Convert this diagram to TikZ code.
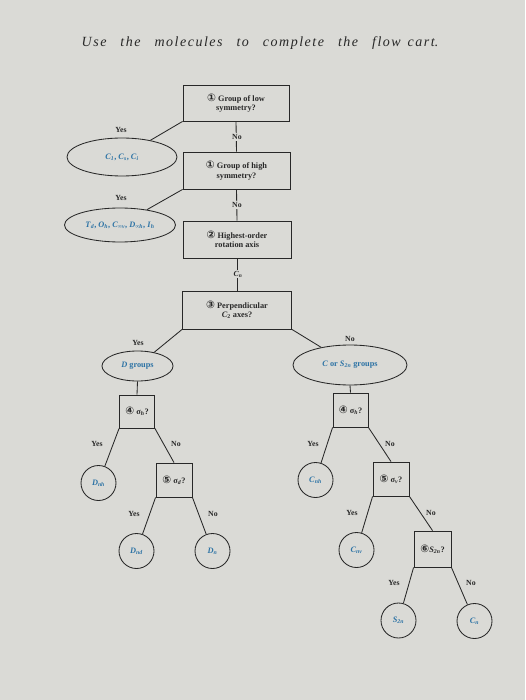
\documentclass[tikz,border=0pt]{standalone}
\usepackage{fontspec}
\setmainfont{Liberation Serif}
\newfontfamily\symfont{DejaVu Sans}
\usetikzlibrary{shapes.geometric}
\definecolor{paper}{RGB}{218,218,214}
\definecolor{ink}{RGB}{40,40,40}
\definecolor{bluetxt}{RGB}{45,115,165}
\newcommand{\cn}[1]{{\symfont\fontsize{10.5}{9}\selectfont #1}}
\newcommand{\bi}[1]{\textbf{\textit{#1}}}
\newcommand{\sbi}[1]{\textsubscript{\textbf{\textit{#1}}}}
\begin{document}
\begin{tikzpicture}[x=1pt,y=-1pt,
  every node/.style={text=ink},
  box/.style={draw=ink,line width=0.85pt,font=\bfseries\fontsize{8.3}{9.3}\selectfont,align=center,inner sep=0pt},
  ell/.style={ellipse,draw=ink,line width=0.85pt,inner sep=0pt,font=\bfseries\fontsize{8.3}{9.3}\selectfont},
  circ/.style={circle,draw=ink,line width=0.85pt,minimum size=35pt,inner sep=0pt,font=\bfseries\fontsize{8.3}{9.3}\selectfont},
  lab/.style={font=\bfseries\fontsize{7.8}{8}\selectfont,inner sep=1pt},
  con/.style={draw=ink,line width=0.85pt}]
\fill[paper] (0,0) rectangle (525,700);
\useasboundingbox (0,0) rectangle (525,700);
\node[font=\itshape\fontsize{14}{15}\selectfont] (title) at (260,43) {U\kern1.5pt s\kern1.5pt e \ \ \ t\kern1.5pt h\kern1.5pt e \ \ \ m\kern1.5pt o\kern1.5pt l\kern1.5pt e\kern1.5pt c\kern1.5pt u\kern1.5pt l\kern1.5pt e\kern1.5pt s \ \ \ t\kern1.5pt o \ \ \ c\kern1.5pt o\kern1.5pt m\kern1.5pt p\kern1.5pt l\kern1.5pt e\kern1.5pt t\kern1.5pt e \ \ \ t\kern1.5pt h\kern1.5pt e \ \ \ f\kern1.5pt l\kern1.5pt o\kern1.5pt w \ c\kern1.5pt a\kern1.5pt r\kern1.5pt t.};
% main boxes
\node[box,minimum width=106pt,minimum height=36pt] (b1) at (236,103) {\cn{①} Group of low\\symmetry?};
\node[box,minimum width=107pt,minimum height=37pt] (b2) at (236.5,170.5) {\cn{①} Group of high\\symmetry?};
\node[box,minimum width=108pt,minimum height=37pt] (b3) at (237,239.5) {\cn{②} Highest-order\\rotation axis};
\node[box,minimum width=109pt,minimum height=38pt] (b4) at (237,310) {\cn{③} Perpendicular\\\textit{C}\textsubscript{2} axes?};
% ellipses
\node[ell,minimum width=110pt,minimum height=38pt] (e1) at (122,157) {\color{bluetxt}\bi{C}\sbi{1}, \bi{C}\sbi{s}, \bi{C}\sbi{i}};
\node[ell,minimum width=111pt,minimum height=34pt] (e2) at (120,225) {\color{bluetxt}\bi{T}\sbi{d}, \bi{O}\sbi{h}, \bi{C}\sbi{∞v}, \bi{D}\sbi{∞h}, \bi{I}\sbi{h}};
\node[ell,minimum width=71pt,minimum height=30pt] (e3) at (137.5,366) {\color{bluetxt}\bi{D} groups};
\node[ell,minimum width=114pt,minimum height=40pt] (e4) at (350,365) {\color{bluetxt}\bi{C} or \bi{S}\sbi{2n} groups};
% small boxes
\node[box,minimum width=35pt,minimum height=33pt] (s1) at (137,411.5) {\cn{④} σ\textsubscript{\textit{h}}?};
\node[box,minimum width=35pt,minimum height=34pt] (s2) at (350.5,410) {\cn{④} σ\textsubscript{\textit{h}}?};
\node[box,minimum width=36pt,minimum height=34pt] (s3) at (174,480) {\cn{⑤} σ\textsubscript{\textit{d}}?};
\node[box,minimum width=36pt,minimum height=34pt] (s4) at (391,479) {\cn{⑤} σ\textsubscript{\textit{v}}?};
\node[box,minimum width=37pt,minimum height=36pt] (s5) at (432.5,549) {\cn{⑥}\bi{S}\sbi{2n}?};
% circles
\node[circ] (c1) at (98.5,483) {\color{bluetxt}\bi{D}\sbi{nh}};
\node[circ] (c2) at (136.5,551) {\color{bluetxt}\bi{D}\sbi{nd}};
\node[circ] (c3) at (212.5,551) {\color{bluetxt}\bi{D}\sbi{n}};
\node[circ] (c4) at (315.5,480) {\color{bluetxt}\bi{C}\sbi{nh}};
\node[circ] (c5) at (356.5,550) {\color{bluetxt}\bi{C}\sbi{nv}};
\node[circ] (c6) at (398.5,620.5) {\color{bluetxt}\bi{S}\sbi{2n}};
\node[circ] (c7) at (474.5,621) {\color{bluetxt}\bi{C}\sbi{n}};
% connectors
\draw[con] (b1.south west) -- (e1);
\draw[con] (b1.south) -- (b2.north);
\draw[con] (b2.south west) -- (e2);
\draw[con] (b2.south) -- (b3.north);
\draw[con] (b3.south) -- (b4.north);
\draw[con] (b4.south west) -- (e3);
\draw[con] (b4.south east) -- (e4);
\draw[con] (e3.south) -- (s1.north);
\draw[con] (e4.south) -- (s2.north);
\draw[con] (s1.south west) -- (c1);
\draw[con] (s1.south east) -- (s3.north);
\draw[con] (s3.south west) -- (c2);
\draw[con] (s3.south east) -- (c3);
\draw[con] (s2.south west) -- (c4);
\draw[con] (s2.south east) -- (s4.north);
\draw[con] (s4.south west) -- (c5);
\draw[con] (s4.south east) -- (s5.north);
\draw[con] (s5.south west) -- (c6);
\draw[con] (s5.south east) -- (c7);
% labels
\node[lab] (y1) at (121,130) {Yes};
\node[lab,fill=paper] (n1) at (237,137) {No};
\node[lab] (y2) at (121,198) {Yes};
\node[lab,fill=paper] (n2) at (237,205) {No};
\node[lab,fill=paper] (cn) at (238,274) {\textbf{\textit{C}}\textsubscript{\textbf{\textit{n}}}};
\node[lab] (y3) at (138,343) {Yes};
\node[lab] (n3) at (350,339) {No};
\node[lab] (y4) at (97,444) {Yes};
\node[lab] (n4) at (176,444) {No};
\node[lab] (y5) at (313,444) {Yes};
\node[lab] (n5) at (390,444) {No};
\node[lab] (y6) at (134,514) {Yes};
\node[lab] (n6) at (213,514) {No};
\node[lab] (y7) at (352,513) {Yes};
\node[lab] (n7) at (431,513) {No};
\node[lab] (y8) at (394,583) {Yes};
\node[lab] (n8) at (471,583) {No};
\end{tikzpicture}
\end{document}
